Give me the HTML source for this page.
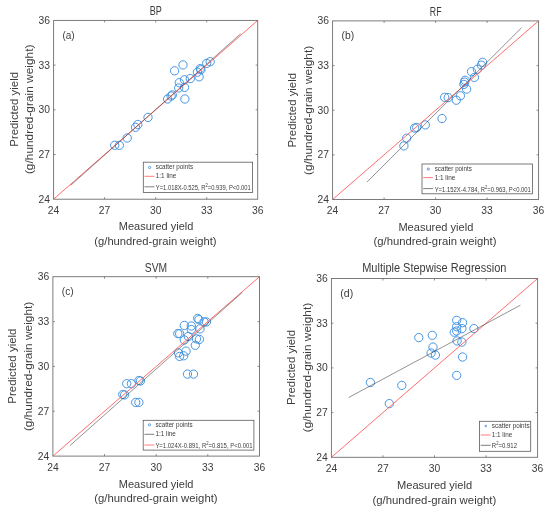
<!DOCTYPE html>
<html lang="en"><head><meta charset="utf-8"><title>Predicted vs measured yield</title>
<style>html,body{margin:0;padding:0;background:#fff}svg{display:block}text{font-family:"Liberation Sans",Arial,sans-serif;fill:#3c3c3c}</style></head><body>
<svg width="550" height="514" viewBox="0 0 550 514">
<rect width="550" height="514" fill="#ffffff"/>
<g id="panel-a">
<g fill="none" stroke="#3d90e0" stroke-width="0.95">
<circle cx="114.7" cy="145.3" r="4.15"/>
<circle cx="119.4" cy="145.3" r="4.15"/>
<circle cx="127.2" cy="138.0" r="4.15"/>
<circle cx="135.5" cy="127.3" r="4.15"/>
<circle cx="137.8" cy="124.5" r="4.15"/>
<circle cx="148.0" cy="117.4" r="4.15"/>
<circle cx="167.6" cy="99.0" r="4.15"/>
<circle cx="171.1" cy="96.1" r="4.15"/>
<circle cx="172.3" cy="94.9" r="4.15"/>
<circle cx="174.6" cy="70.8" r="4.15"/>
<circle cx="183.0" cy="64.9" r="4.15"/>
<circle cx="184.9" cy="99.0" r="4.15"/>
<circle cx="179.3" cy="82.7" r="4.15"/>
<circle cx="184.5" cy="79.8" r="4.15"/>
<circle cx="184.5" cy="87.4" r="4.15"/>
<circle cx="178.7" cy="88.0" r="4.15"/>
<circle cx="190.3" cy="78.6" r="4.15"/>
<circle cx="199.1" cy="76.8" r="4.15"/>
<circle cx="197.4" cy="72.2" r="4.15"/>
<circle cx="200.9" cy="69.8" r="4.15"/>
<circle cx="200.3" cy="68.6" r="4.15"/>
<circle cx="206.7" cy="63.4" r="4.15"/>
<circle cx="210.2" cy="61.7" r="4.15"/>
</g>
<line x1="53.6" y1="199.2" x2="257.7" y2="20.4" stroke="#ff5c5c" stroke-width="0.9"/>
<line x1="70.6" y1="185.4" x2="240.7" y2="33.7" stroke="#2e2e2e" stroke-opacity="0.58" stroke-width="0.9"/>
<rect x="53.6" y="20.4" width="204.1" height="178.8" fill="none" stroke="#6e6e6e" stroke-width="0.9"/>
<path d="M104.6 199.2v-2M104.6 20.4v2M53.6 154.5h2M257.7 154.5h-2M155.7 199.2v-2M155.7 20.4v2M53.6 109.8h2M257.7 109.8h-2M206.7 199.2v-2M206.7 20.4v2M53.6 65.1h2M257.7 65.1h-2" stroke="#6e6e6e" stroke-width="0.8" fill="none"/>
<text x="53.6" y="214.0" font-size="11" text-anchor="middle" textLength="11.5" lengthAdjust="spacingAndGlyphs">24</text>
<text x="49.9" y="202.7" font-size="11" text-anchor="end" textLength="11.5" lengthAdjust="spacingAndGlyphs">24</text>
<text x="104.6" y="214.0" font-size="11" text-anchor="middle" textLength="11.5" lengthAdjust="spacingAndGlyphs">27</text>
<text x="49.9" y="158.0" font-size="11" text-anchor="end" textLength="11.5" lengthAdjust="spacingAndGlyphs">27</text>
<text x="155.7" y="214.0" font-size="11" text-anchor="middle" textLength="11.5" lengthAdjust="spacingAndGlyphs">30</text>
<text x="49.9" y="113.3" font-size="11" text-anchor="end" textLength="11.5" lengthAdjust="spacingAndGlyphs">30</text>
<text x="206.7" y="214.0" font-size="11" text-anchor="middle" textLength="11.5" lengthAdjust="spacingAndGlyphs">33</text>
<text x="49.9" y="68.6" font-size="11" text-anchor="end" textLength="11.5" lengthAdjust="spacingAndGlyphs">33</text>
<text x="257.7" y="214.0" font-size="11" text-anchor="middle" textLength="11.5" lengthAdjust="spacingAndGlyphs">36</text>
<text x="49.9" y="23.9" font-size="11" text-anchor="end" textLength="11.5" lengthAdjust="spacingAndGlyphs">36</text>
<text x="149.8" y="15.2" font-size="12" textLength="12.1" lengthAdjust="spacingAndGlyphs" fill="#262626">BP</text>
<text x="62.5" y="38.6" font-size="11.6" textLength="12.2" lengthAdjust="spacingAndGlyphs">(a)</text>
<text x="118.8" y="230.4" font-size="11" textLength="74.5" lengthAdjust="spacingAndGlyphs">Measured yield</text>
<text x="94.3" y="244.5" font-size="11" textLength="122.2" lengthAdjust="spacingAndGlyphs">(g/hundred-grain weight)</text>
<text transform="translate(17.7 146.7) rotate(-90)" font-size="11" textLength="74.7" lengthAdjust="spacingAndGlyphs">Predicted yield</text>
<text transform="translate(32.7 174.1) rotate(-90)" font-size="11" textLength="129.5" lengthAdjust="spacingAndGlyphs">(g/hundred-grain weight)</text>
<rect x="143.3" y="162.2" width="109.3" height="30.4" fill="#fff" stroke="#5a5a5a" stroke-width="0.8"/>
<circle cx="149.6" cy="167.5" r="1.1" fill="none" stroke="#3d90e0" stroke-width="0.85"/>
<line x1="144.5" y1="176.3" x2="154.4" y2="176.3" stroke="#ff5c5c" stroke-width="0.8"/>
<line x1="144.5" y1="186.8" x2="154.4" y2="186.8" stroke="#606060" stroke-width="0.8"/>
<text x="155.8" y="169.3" font-size="6.6" textLength="37.3" lengthAdjust="spacingAndGlyphs">scatter points</text>
<text x="155.8" y="178.3" font-size="6.6" textLength="20.5" lengthAdjust="spacingAndGlyphs">1:1 line</text>
<text x="155.8" y="189.8" font-size="6.6" textLength="95.0" lengthAdjust="spacingAndGlyphs">Y=1.018X-0.525, R<tspan dy="-3" font-size="4.6">2</tspan><tspan dy="3">=0.939, P&lt;0.001</tspan></text>
</g>
<g id="panel-b">
<g fill="none" stroke="#3d90e0" stroke-width="0.95">
<circle cx="403.9" cy="145.9" r="4.15"/>
<circle cx="406.7" cy="138.2" r="4.15"/>
<circle cx="414.6" cy="128.1" r="4.15"/>
<circle cx="416.7" cy="127.5" r="4.15"/>
<circle cx="425.3" cy="124.9" r="4.15"/>
<circle cx="442.0" cy="118.5" r="4.15"/>
<circle cx="444.7" cy="97.3" r="4.15"/>
<circle cx="448.2" cy="97.6" r="4.15"/>
<circle cx="456.3" cy="100.2" r="4.15"/>
<circle cx="460.4" cy="95.8" r="4.15"/>
<circle cx="466.6" cy="89.1" r="4.15"/>
<circle cx="463.9" cy="84.4" r="4.15"/>
<circle cx="465.1" cy="80.3" r="4.15"/>
<circle cx="464.5" cy="82.1" r="4.15"/>
<circle cx="471.5" cy="71.6" r="4.15"/>
<circle cx="474.4" cy="77.4" r="4.15"/>
<circle cx="477.4" cy="69.3" r="4.15"/>
<circle cx="481.4" cy="65.2" r="4.15"/>
<circle cx="482.6" cy="62.3" r="4.15"/>
</g>
<line x1="332.6" y1="199.5" x2="538.6" y2="20.9" stroke="#ff5c5c" stroke-width="0.9"/>
<line x1="366.9" y1="182.1" x2="521.4" y2="27.9" stroke="#2e2e2e" stroke-opacity="0.58" stroke-width="0.9"/>
<rect x="332.6" y="20.9" width="206.0" height="178.6" fill="none" stroke="#6e6e6e" stroke-width="0.9"/>
<path d="M384.1 199.5v-2M384.1 20.9v2M332.6 154.9h2M538.6 154.9h-2M435.6 199.5v-2M435.6 20.9v2M332.6 110.2h2M538.6 110.2h-2M487.1 199.5v-2M487.1 20.9v2M332.6 65.6h2M538.6 65.6h-2" stroke="#6e6e6e" stroke-width="0.8" fill="none"/>
<text x="332.6" y="214.3" font-size="11" text-anchor="middle" textLength="11.5" lengthAdjust="spacingAndGlyphs">24</text>
<text x="328.9" y="203.0" font-size="11" text-anchor="end" textLength="11.5" lengthAdjust="spacingAndGlyphs">24</text>
<text x="384.1" y="214.3" font-size="11" text-anchor="middle" textLength="11.5" lengthAdjust="spacingAndGlyphs">27</text>
<text x="328.9" y="158.4" font-size="11" text-anchor="end" textLength="11.5" lengthAdjust="spacingAndGlyphs">27</text>
<text x="435.6" y="214.3" font-size="11" text-anchor="middle" textLength="11.5" lengthAdjust="spacingAndGlyphs">30</text>
<text x="328.9" y="113.7" font-size="11" text-anchor="end" textLength="11.5" lengthAdjust="spacingAndGlyphs">30</text>
<text x="487.1" y="214.3" font-size="11" text-anchor="middle" textLength="11.5" lengthAdjust="spacingAndGlyphs">33</text>
<text x="328.9" y="69.1" font-size="11" text-anchor="end" textLength="11.5" lengthAdjust="spacingAndGlyphs">33</text>
<text x="538.6" y="214.3" font-size="11" text-anchor="middle" textLength="11.5" lengthAdjust="spacingAndGlyphs">36</text>
<text x="328.9" y="24.4" font-size="11" text-anchor="end" textLength="11.5" lengthAdjust="spacingAndGlyphs">36</text>
<text x="429.8" y="15.7" font-size="12" textLength="11.7" lengthAdjust="spacingAndGlyphs" fill="#262626">RF</text>
<text x="341.5" y="39.1" font-size="11.6" textLength="12.7" lengthAdjust="spacingAndGlyphs">(b)</text>
<text x="398.4" y="231.1" font-size="11" textLength="74.9" lengthAdjust="spacingAndGlyphs">Measured yield</text>
<text x="373.5" y="245.3" font-size="11" textLength="123.0" lengthAdjust="spacingAndGlyphs">(g/hundred-grain weight)</text>
<text transform="translate(296.3 147.5) rotate(-90)" font-size="11" textLength="74.5" lengthAdjust="spacingAndGlyphs">Predicted yield</text>
<text transform="translate(311.5 174.9) rotate(-90)" font-size="11" textLength="129.1" lengthAdjust="spacingAndGlyphs">(g/hundred-grain weight)</text>
<rect x="422.0" y="164.0" width="110.6" height="29.8" fill="#fff" stroke="#5a5a5a" stroke-width="0.8"/>
<circle cx="428.3" cy="169.1" r="1.1" fill="none" stroke="#3d90e0" stroke-width="0.85"/>
<line x1="423.2" y1="177.6" x2="433.1" y2="177.6" stroke="#ff5c5c" stroke-width="0.8"/>
<line x1="423.2" y1="188.6" x2="433.1" y2="188.6" stroke="#606060" stroke-width="0.8"/>
<text x="434.7" y="170.9" font-size="6.6" textLength="37.1" lengthAdjust="spacingAndGlyphs">scatter points</text>
<text x="434.7" y="179.6" font-size="6.6" textLength="20.6" lengthAdjust="spacingAndGlyphs">1:1 line</text>
<text x="434.7" y="191.6" font-size="6.6" textLength="96.2" lengthAdjust="spacingAndGlyphs">Y=1.152X-4.784, R<tspan dy="-3" font-size="4.6">2</tspan><tspan dy="3">=0.963, P&lt;0.001</tspan></text>
</g>
<g id="panel-c">
<g fill="none" stroke="#3d90e0" stroke-width="0.95">
<circle cx="122.8" cy="394.5" r="4.15"/>
<circle cx="124.6" cy="394.9" r="4.15"/>
<circle cx="126.7" cy="383.7" r="4.15"/>
<circle cx="131.4" cy="383.7" r="4.15"/>
<circle cx="138.9" cy="380.5" r="4.15"/>
<circle cx="140.4" cy="381.0" r="4.15"/>
<circle cx="135.7" cy="402.4" r="4.15"/>
<circle cx="138.9" cy="402.4" r="4.15"/>
<circle cx="187.5" cy="374.1" r="4.15"/>
<circle cx="193.5" cy="374.1" r="4.15"/>
<circle cx="177.8" cy="333.6" r="4.15"/>
<circle cx="179.6" cy="333.6" r="4.15"/>
<circle cx="184.3" cy="325.4" r="4.15"/>
<circle cx="191.3" cy="326.0" r="4.15"/>
<circle cx="191.3" cy="329.5" r="4.15"/>
<circle cx="188.3" cy="336.5" r="4.15"/>
<circle cx="184.3" cy="340.0" r="4.15"/>
<circle cx="195.3" cy="345.3" r="4.15"/>
<circle cx="196.5" cy="338.9" r="4.15"/>
<circle cx="199.4" cy="339.4" r="4.15"/>
<circle cx="200.0" cy="328.9" r="4.15"/>
<circle cx="197.7" cy="318.4" r="4.15"/>
<circle cx="198.9" cy="319.6" r="4.15"/>
<circle cx="204.1" cy="321.9" r="4.15"/>
<circle cx="206.4" cy="321.9" r="4.15"/>
<circle cx="178.4" cy="352.9" r="4.15"/>
<circle cx="179.6" cy="356.4" r="4.15"/>
<circle cx="183.7" cy="355.8" r="4.15"/>
<circle cx="186.0" cy="351.1" r="4.15"/>
</g>
<line x1="52.9" y1="456.1" x2="259.5" y2="276.7" stroke="#ff5c5c" stroke-width="0.9"/>
<line x1="70.1" y1="445.5" x2="242.3" y2="292.4" stroke="#2e2e2e" stroke-opacity="0.58" stroke-width="0.9"/>
<rect x="52.9" y="276.7" width="206.6" height="179.4" fill="none" stroke="#6e6e6e" stroke-width="0.9"/>
<path d="M104.5 456.1v-2M104.5 276.7v2M52.9 411.2h2M259.5 411.2h-2M156.2 456.1v-2M156.2 276.7v2M52.9 366.4h2M259.5 366.4h-2M207.8 456.1v-2M207.8 276.7v2M52.9 321.6h2M259.5 321.6h-2" stroke="#6e6e6e" stroke-width="0.8" fill="none"/>
<text x="52.9" y="470.5" font-size="11" text-anchor="middle" textLength="11.5" lengthAdjust="spacingAndGlyphs">24</text>
<text x="49.2" y="459.6" font-size="11" text-anchor="end" textLength="11.5" lengthAdjust="spacingAndGlyphs">24</text>
<text x="104.5" y="470.5" font-size="11" text-anchor="middle" textLength="11.5" lengthAdjust="spacingAndGlyphs">27</text>
<text x="49.2" y="414.8" font-size="11" text-anchor="end" textLength="11.5" lengthAdjust="spacingAndGlyphs">27</text>
<text x="156.2" y="470.5" font-size="11" text-anchor="middle" textLength="11.5" lengthAdjust="spacingAndGlyphs">30</text>
<text x="49.2" y="369.9" font-size="11" text-anchor="end" textLength="11.5" lengthAdjust="spacingAndGlyphs">30</text>
<text x="207.8" y="470.5" font-size="11" text-anchor="middle" textLength="11.5" lengthAdjust="spacingAndGlyphs">33</text>
<text x="49.2" y="325.1" font-size="11" text-anchor="end" textLength="11.5" lengthAdjust="spacingAndGlyphs">33</text>
<text x="259.5" y="470.5" font-size="11" text-anchor="middle" textLength="11.5" lengthAdjust="spacingAndGlyphs">36</text>
<text x="49.2" y="280.2" font-size="11" text-anchor="end" textLength="11.5" lengthAdjust="spacingAndGlyphs">36</text>
<text x="144.8" y="272.2" font-size="12" textLength="22.3" lengthAdjust="spacingAndGlyphs" fill="#262626">SVM</text>
<text x="61.8" y="294.9" font-size="11.6" textLength="11.8" lengthAdjust="spacingAndGlyphs">(c)</text>
<text x="118.8" y="487.7" font-size="11" textLength="74.7" lengthAdjust="spacingAndGlyphs">Measured yield</text>
<text x="94.3" y="501.8" font-size="11" textLength="123.3" lengthAdjust="spacingAndGlyphs">(g/hundred-grain weight)</text>
<text transform="translate(16.3 403.7) rotate(-90)" font-size="11" textLength="75.2" lengthAdjust="spacingAndGlyphs">Predicted yield</text>
<text transform="translate(31.5 431.1) rotate(-90)" font-size="11" textLength="129.4" lengthAdjust="spacingAndGlyphs">(g/hundred-grain weight)</text>
<rect x="143.2" y="420.3" width="110.7" height="29.8" fill="#fff" stroke="#5a5a5a" stroke-width="0.8"/>
<circle cx="149.5" cy="424.8" r="1.1" fill="none" stroke="#3d90e0" stroke-width="0.85"/>
<line x1="144.4" y1="434.3" x2="154.3" y2="434.3" stroke="#606060" stroke-width="0.8"/>
<line x1="144.4" y1="445.0" x2="154.3" y2="445.0" stroke="#ff5c5c" stroke-width="0.8"/>
<text x="155.4" y="426.6" font-size="6.6" textLength="37.3" lengthAdjust="spacingAndGlyphs">scatter points</text>
<text x="155.4" y="436.3" font-size="6.6" textLength="20.5" lengthAdjust="spacingAndGlyphs">1:1 line</text>
<text x="155.4" y="448.0" font-size="6.6" textLength="97.2" lengthAdjust="spacingAndGlyphs">Y=1.024X-0.891, R<tspan dy="-3" font-size="4.6">2</tspan><tspan dy="3">=0.815, P&lt;0.001</tspan></text>
</g>
<g id="panel-d">
<g fill="none" stroke="#3d90e0" stroke-width="0.95">
<circle cx="370.4" cy="382.5" r="4.15"/>
<circle cx="389.3" cy="403.6" r="4.15"/>
<circle cx="401.8" cy="385.4" r="4.15"/>
<circle cx="418.8" cy="337.6" r="4.15"/>
<circle cx="432.3" cy="335.3" r="4.15"/>
<circle cx="433.0" cy="347.1" r="4.15"/>
<circle cx="431.1" cy="353.0" r="4.15"/>
<circle cx="435.4" cy="355.1" r="4.15"/>
<circle cx="456.7" cy="375.4" r="4.15"/>
<circle cx="462.6" cy="357.0" r="4.15"/>
<circle cx="457.1" cy="340.9" r="4.15"/>
<circle cx="461.9" cy="342.1" r="4.15"/>
<circle cx="454.3" cy="332.2" r="4.15"/>
<circle cx="456.7" cy="331.0" r="4.15"/>
<circle cx="456.7" cy="326.7" r="4.15"/>
<circle cx="461.9" cy="328.6" r="4.15"/>
<circle cx="456.7" cy="320.4" r="4.15"/>
<circle cx="462.6" cy="322.7" r="4.15"/>
<circle cx="473.9" cy="328.6" r="4.15"/>
</g>
<line x1="331.4" y1="457.3" x2="537.6" y2="278.5" stroke="#ff5c5c" stroke-width="0.9"/>
<line x1="348.7" y1="397.5" x2="520.4" y2="305.2" stroke="#2e2e2e" stroke-opacity="0.58" stroke-width="0.9"/>
<rect x="331.4" y="278.5" width="206.2" height="178.8" fill="none" stroke="#6e6e6e" stroke-width="0.9"/>
<path d="M382.9 457.3v-2M382.9 278.5v2M331.4 412.6h2M537.6 412.6h-2M434.5 457.3v-2M434.5 278.5v2M331.4 367.9h2M537.6 367.9h-2M486.1 457.3v-2M486.1 278.5v2M331.4 323.2h2M537.6 323.2h-2" stroke="#6e6e6e" stroke-width="0.8" fill="none"/>
<text x="331.4" y="472.3" font-size="11" text-anchor="middle" textLength="11.5" lengthAdjust="spacingAndGlyphs">24</text>
<text x="327.7" y="460.8" font-size="11" text-anchor="end" textLength="11.5" lengthAdjust="spacingAndGlyphs">24</text>
<text x="382.9" y="472.3" font-size="11" text-anchor="middle" textLength="11.5" lengthAdjust="spacingAndGlyphs">27</text>
<text x="327.7" y="416.1" font-size="11" text-anchor="end" textLength="11.5" lengthAdjust="spacingAndGlyphs">27</text>
<text x="434.5" y="472.3" font-size="11" text-anchor="middle" textLength="11.5" lengthAdjust="spacingAndGlyphs">30</text>
<text x="327.7" y="371.4" font-size="11" text-anchor="end" textLength="11.5" lengthAdjust="spacingAndGlyphs">30</text>
<text x="486.1" y="472.3" font-size="11" text-anchor="middle" textLength="11.5" lengthAdjust="spacingAndGlyphs">33</text>
<text x="327.7" y="326.7" font-size="11" text-anchor="end" textLength="11.5" lengthAdjust="spacingAndGlyphs">33</text>
<text x="537.6" y="472.3" font-size="11" text-anchor="middle" textLength="11.5" lengthAdjust="spacingAndGlyphs">36</text>
<text x="327.7" y="282.0" font-size="11" text-anchor="end" textLength="11.5" lengthAdjust="spacingAndGlyphs">36</text>
<text x="362.2" y="272.4" font-size="12" textLength="144.2" lengthAdjust="spacingAndGlyphs" fill="#262626">Multiple Stepwise Regression</text>
<text x="340.3" y="296.7" font-size="11.6" textLength="12.9" lengthAdjust="spacingAndGlyphs">(d)</text>
<text x="397.0" y="489.1" font-size="11" textLength="75.1" lengthAdjust="spacingAndGlyphs">Measured yield</text>
<text x="372.4" y="503.5" font-size="11" textLength="123.9" lengthAdjust="spacingAndGlyphs">(g/hundred-grain weight)</text>
<text transform="translate(295.2 405.0) rotate(-90)" font-size="11" textLength="75.0" lengthAdjust="spacingAndGlyphs">Predicted yield</text>
<text transform="translate(310.6 432.3) rotate(-90)" font-size="11" textLength="129.5" lengthAdjust="spacingAndGlyphs">(g/hundred-grain weight)</text>
<rect x="479.5" y="421.3" width="51.2" height="30.0" fill="#fff" stroke="#5a5a5a" stroke-width="0.8"/>
<circle cx="485.8" cy="426.0" r="1.2" fill="#6fb0ea" stroke="none"/>
<line x1="480.7" y1="435.0" x2="490.6" y2="435.0" stroke="#ff5c5c" stroke-width="0.8"/>
<line x1="480.7" y1="445.3" x2="490.6" y2="445.3" stroke="#606060" stroke-width="0.8"/>
<text x="491.8" y="427.8" font-size="6.6" textLength="37.8" lengthAdjust="spacingAndGlyphs">scatter points</text>
<text x="491.8" y="437.0" font-size="6.6" textLength="20.4" lengthAdjust="spacingAndGlyphs">1:1 line</text>
<text x="491.8" y="448.3" font-size="6.6" textLength="25.2" lengthAdjust="spacingAndGlyphs">R<tspan dy="-3" font-size="4.6">2</tspan><tspan dy="3">=0.912</tspan></text>
</g>
</svg></body></html>
